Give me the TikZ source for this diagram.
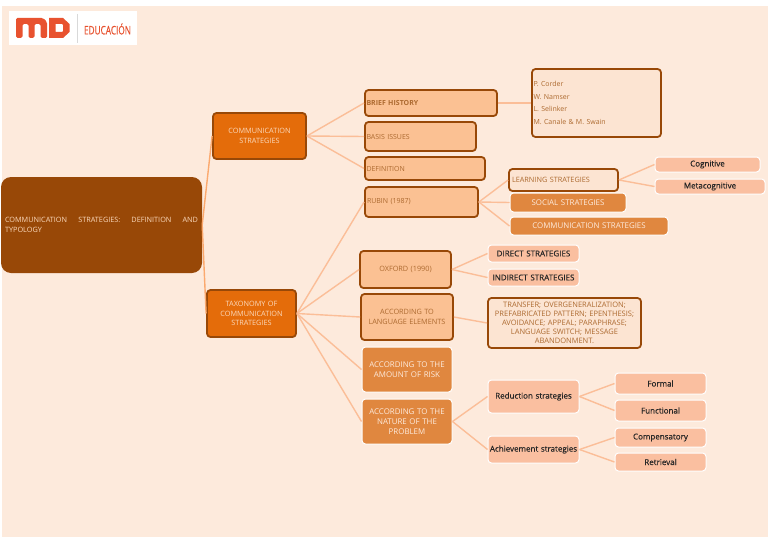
\documentclass[tikz,border=0pt]{standalone}
\usepackage{fontspec}
\setmainfont{Open Sans}
\newfontfamily\semifont[FakeBold=0.35]{Open Sans}
\definecolor{bgc}{HTML}{FDEADC}
\definecolor{brownc}{HTML}{984807}
\definecolor{orangec}{HTML}{E46C0A}
\definecolor{lightc}{HTML}{FBC193}
\definecolor{palec}{HTML}{FCE4D2}
\definecolor{midc}{HTML}{E0873F}
\definecolor{leafc}{HTML}{FABFA0}
\definecolor{linec}{HTML}{FBBE98}
\definecolor{line2c}{HTML}{FBA96E}
\definecolor{textbr}{HTML}{AD6A30}
\definecolor{textpl}{HTML}{FBD9BC}
\definecolor{logoc}{HTML}{E8522F}
\tikzset{
  base/.style={rounded corners=3.5pt,inner xsep=1.5pt,inner ysep=0pt,font=\fontsize{7.3}{9.3}\selectfont,align=center},
  rootbox/.style={base,rounded corners=10pt,fill=brownc,text=textpl},
  topbox/.style={base,fill=orangec,draw=brownc,line width=1.8pt,text=textpl},
  lightbox/.style={base,fill=lightc,draw=brownc,line width=1.8pt,text=textbr},
  palebox/.style={base,fill=palec,draw=brownc,line width=1.8pt,text=textbr},
  midbox/.style={base,fill=midc,draw=white,line width=1pt,text=bgc,font=\fontsize{7.9}{10}\selectfont},
  leafbox/.style={base,fill=leafc,draw=white,line width=1pt,text=black!85,font=\fontsize{8}{9}\semifont},
  conn/.style={draw=linec,line width=1.4pt},
  conn2/.style={draw=line2c,line width=1.4pt},
}
% [style]{name}{x1}{y1}{x2}{y2}{text}
\newcommand{\bx}[7][]{%
  \pgfmathsetmacro{\bw}{#5-#3}\pgfmathsetmacro{\bh}{#6-#4}%
  \pgfmathsetmacro{\tw}{#5-#3-3}%
  \pgfmathsetmacro{\cxx}{(#3+#5)/2}\pgfmathsetmacro{\cyy}{(#4+#6)/2}%
  \node[minimum width=\bw pt,minimum height=\bh pt,text width=\tw pt,#1] (#2) at (\cxx,\cyy) {#7};}
\begin{document}
\begin{tikzpicture}[x=1pt,y=-1pt]
\useasboundingbox (0,0) rectangle (768,543);
\fill[white] (0,0) rectangle (768,543);
\fill[bgc] (2,6) rectangle (768,537);
% logo
\fill[white] (9,11) rectangle (137,45);
\fill[logoc,rounded corners=1.5pt] (16,38) -- (16,18) -- (43,18) -- (47,22) -- (47,38) -- (40.5,38) -- (40.5,24) -- (34.5,24) -- (34.5,38) -- (28.5,38) -- (28.5,24) -- (22.5,24) -- (22.5,38) -- cycle;
\fill[logoc,even odd rule] (49,18) -- (63,18) -- (69.5,24) -- (69.5,32) -- (63,38) -- (49,38) -- cycle (55.5,24) -- (55.5,32) -- (62,32) -- (63,31) -- (63,25) -- (62,24) -- cycle;
\draw[black!15,line width=1pt] (77,14) -- (77,43);
\node[inner sep=0pt,text=logoc,font=\fontsize{9.5}{10}\semifont] (logo) at (107.5,29) {\resizebox{47pt}{11pt}{EDUCACIÓN}};
% boxes
\bx[rootbox,align=left,inner xsep=1.5pt]{root}{1}{177}{202}{273}{\hspace*{2.5pt}\hbox to 193pt{COMMUNICATION\hfill STRATEGIES:\hfill DEFINITION\hfill AND}\\[0pt]\hspace*{2.5pt}TYPOLOGY}
\bx[topbox]{cs}{213}{113}{306}{159}{COMMUNICATION\\STRATEGIES}
\bx[topbox]{tax}{207}{290}{296}{337}{TAXONOMY OF\\COMMUNICATION\\STRATEGIES}
\bx[lightbox,align=left,font=\fontsize{7}{9}\selectfont]{brief}{365}{90}{497}{116}{\textbf{BRIEF HISTORY}}
\bx[lightbox,align=left,font=\fontsize{7}{9}\selectfont]{basis}{365}{122}{476}{151}{BASIS ISSUES}
\bx[lightbox,align=left,font=\fontsize{7}{9}\selectfont]{defn}{365}{157}{485}{180}{DEFINITION}
\bx[lightbox,align=left,font=\fontsize{7}{9}\selectfont]{rubin}{365}{187}{478}{217}{\hspace*{0.5pt}RUBIN (1987)}
\bx[palebox,align=left,font=\fontsize{7}{12.5}\selectfont]{names}{532}{69}{661}{137}{P. Corder\\W. Namser\\L. Selinker\\M. Canale \& M. Swain}
\bx[palebox,align=left]{learn}{509}{169}{618}{191}{\hspace*{1.5pt}LEARNING STRATEGIES}
\bx[midbox]{social}{510}{193}{626}{212}{SOCIAL STRATEGIES}
\bx[midbox]{commst}{510}{217}{668}{235}{COMMUNICATION STRATEGIES}
\bx[leafbox]{cogn}{655}{157}{760}{172}{Cognitive}
\bx[leafbox]{meta}{655}{179}{765}{194}{Metacognitive}
\bx[lightbox]{oxford}{360}{251}{451}{288}{OXFORD (1990)}
\bx[lightbox]{lang}{361}{294}{453}{340}{ACCORDING TO\\LANGUAGE ELEMENTS}
\bx[leafbox]{direct}{488}{245}{579}{262}{DIRECT STRATEGIES}
\bx[leafbox]{indirect}{488}{269}{579}{286}{INDIRECT STRATEGIES}
\bx[palebox,font=\fontsize{7.5}{9}\selectfont]{transfer}{488}{298}{641}{348}{TRANSFER; OVERGENERALIZATION;\\PREFABRICATED PATTERN; EPENTHESIS;\\AVOIDANCE; APPEAL; PARAPHRASE;\\LANGUAGE SWITCH; MESSAGE\\ABANDONMENT.}
\bx[midbox]{risk}{362}{347}{452}{392}{ACCORDING TO THE\\AMOUNT OF RISK}
\bx[midbox]{nature}{362}{399}{452}{444}{ACCORDING TO THE\\NATURE OF THE\\PROBLEM}
\bx[leafbox]{reduct}{488}{380}{579}{413}{Reduction strategies}
\bx[leafbox,inner xsep=0pt]{achiev}{488}{436}{579}{463}{Achievement strategies}
\bx[leafbox]{formal}{615}{373}{706}{394}{Formal}
\bx[leafbox]{funct}{615}{400}{706}{421}{Functional}
\bx[leafbox]{compens}{615}{428}{706}{447}{Compensatory}
\bx[leafbox]{retriev}{615}{453}{706}{471}{Retrieval}
% connectors
\foreach \a/\b in {root/cs,root/tax}{\draw[conn2] (\a.east) -- (\b.west);}
\foreach \a/\b in {cs/brief,cs/basis,cs/defn,tax/rubin,tax/oxford,tax/lang,tax/risk,tax/nature,brief/names,rubin/learn,rubin/social,rubin/commst,learn/cogn,learn/meta,oxford/direct,oxford/indirect,lang/transfer,nature/reduct,nature/achiev,reduct/formal,reduct/funct,achiev/compens,achiev/retriev}{\draw[conn] (\a.east) -- (\b.west);}
\end{tikzpicture}
\end{document}
